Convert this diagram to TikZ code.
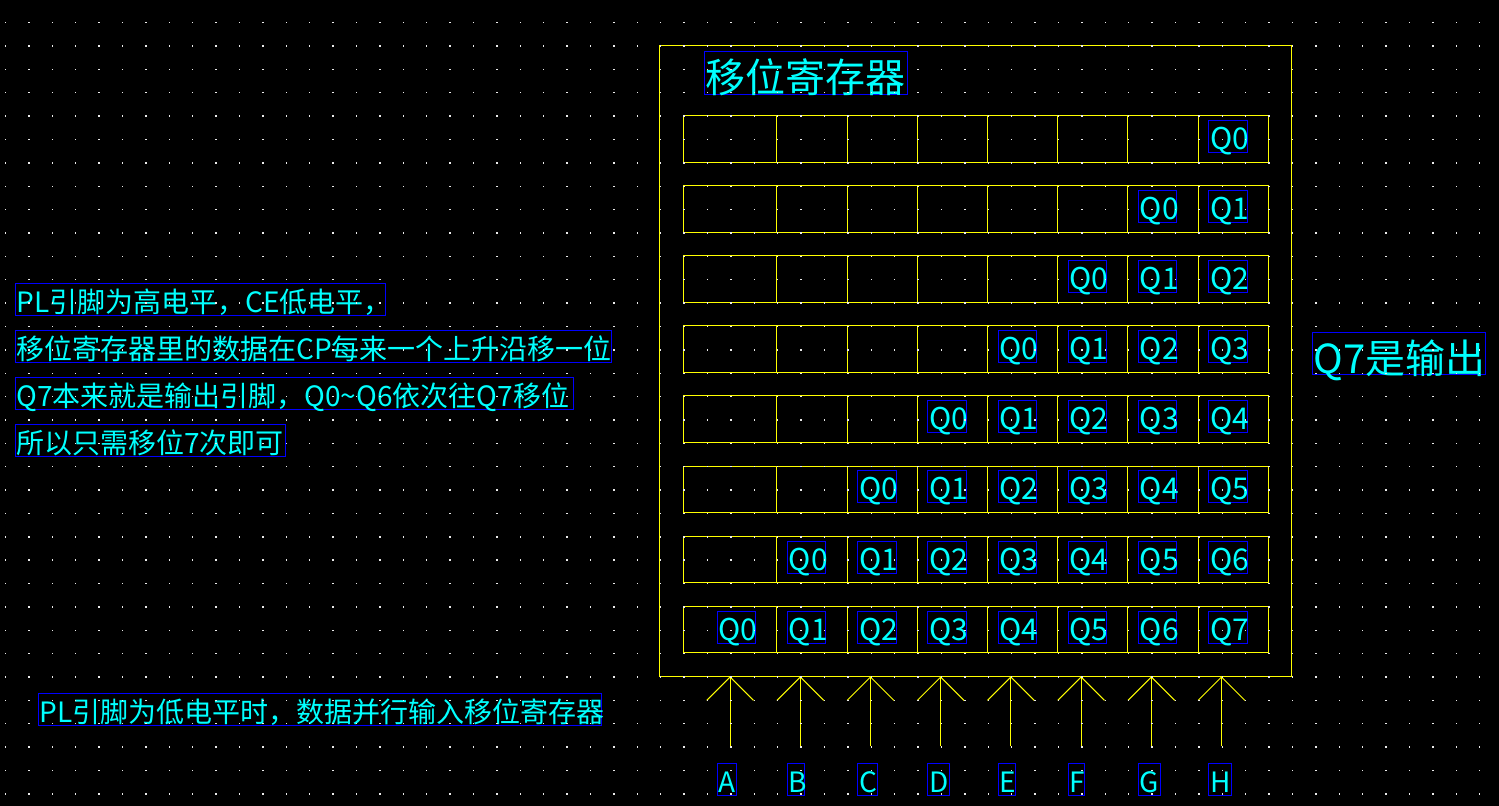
\documentclass[tikz,border=0pt]{standalone}
\usepackage{fontspec}
\setmainfont{Noto Sans CJK SC}
\usetikzlibrary{arrows.meta}
\definecolor{qcyan}{RGB}{0,255,255}
\definecolor{qblue}{RGB}{0,0,255}
\definecolor{qyellow}{RGB}{255,255,0}
\definecolor{qdot}{RGB}{235,235,235}
\tikzset{
  cell/.style={draw=qyellow, line width=0.75pt, anchor=north west, minimum height=35.06pt, inner sep=0pt, outer sep=0pt},
  lbl/.style={draw=qblue, line width=0.75pt, text=qcyan, inner xsep=1pt, inner ysep=0pt, outer sep=0pt, anchor=north west, align=left, font=\fontsize{21pt}{24pt}\selectfont},
  small/.style={text height=21.75pt, text depth=2.25pt},
  big/.style={font=\fontsize{30pt}{32pt}\selectfont},
  qsz/.style={small, text width=26.8pt, font=\fontsize{22.5pt}{24pt}\selectfont},
  arr/.style={draw=qyellow, line width=0.75pt, -{Straight Barb[length=17.55pt, width=35.1pt]}},
}
\begin{document}
\begin{tikzpicture}[x=0.75pt,y=-0.75pt]
\useasboundingbox (0,0) rectangle (1499,806);
\fill[black] (0,0) rectangle (1499,806);

% register outline
\node[cell, minimum width=473.85pt, minimum height=473.25pt] (reg) at (659.9,45.3) {};

% title
\node[lbl, big, text width=150.8pt, text height=30.75pt, text depth=1.5pt] (title) at (704,51.3) {移位寄存器};

% rows of cells with labels
\foreach \r in {1,...,8}{
  \pgfmathsetmacro\ty{115.45+70.11*(\r-1)}
  \node[cell, minimum width=70.2pt] (c\r-0) at (683.3,\ty) {};
  \foreach \c in {1,...,7}{
    \pgfmathsetmacro\cx{776.9+70.2*(\c-1)}
    \node[cell, minimum width=52.65pt] (c\r-\c) at (\cx,\ty) {};
  }
  \foreach \c in {0,...,7}{
    \pgfmathtruncatemacro\q{\c-8+\r}
    \ifnum\q>-1
      \pgfmathsetmacro\lx{717.3+70.2*\c}
      \pgfmathsetmacro\ly{\ty+4.9}
      \node[lbl, qsz] (q\r-\c) at (\lx,\ly) {Q\q};
    \fi
  }
}

% inputs
\foreach \L/\w [count=\k from 0] in {A/12.55,B/11.05,C/12.55,D/14.5,E/10.75,F/10,G/14.8,H/14.8}{
  \pgfmathsetmacro\lx{717.3+70.2*\k}
  \pgfmathsetmacro\ax{730.1+70.2*\k}
  \node[lbl, small, text width=\w pt] (in\L) at (\lx,763.3) {\L};
  \coordinate (s\L) at (\ax,746.4);
  \draw[arr] (s\L) -- (s\L |- reg.south);
}

% explanation texts
\node[lbl, small, text width=275.5pt] (t1) at (15,283.5) {PL引脚为高电平，CE低电平，};
\node[lbl, small, text width=445pt] (t2) at (15,330.7) {移位寄存器里的数据在CP每来一个上升沿移一位};
\node[lbl, small, text width=416.5pt] (t3) at (15,377.3) {Q7本来就是输出引脚，Q0\char"007E Q6依次往Q7移位};
\node[lbl, small, text width=200.5pt] (t4) at (15,424.3) {所以只需移位7次即可};
\node[lbl, small, text width=420.5pt] (t5) at (38.4,693.3) {PL引脚为低电平时，数据并行输入移位寄存器};
\node[lbl, big, text width=128pt, text height=30.65pt, text depth=1.35pt] (out) at (1312.3,332.3) {Q7是输出};

% grid dots
\foreach \i in {0,...,63}{
  \foreach \j in {1,...,34}{
    \fill[qdot] ({4.7+23.4*\i},{-1.4+23.37*\j}) rectangle ++(1.4,1.4);
  }
}
\end{tikzpicture}
\end{document}
